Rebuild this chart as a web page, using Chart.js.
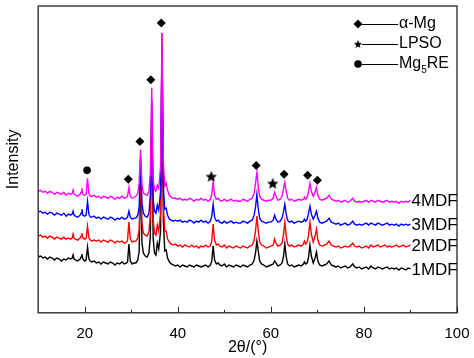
<!DOCTYPE html>
<html>
<head>
<meta charset="utf-8">
<script src="https://cdn.jsdelivr.net/npm/chart.js@4"></script>
<style>
  html, body { margin: 0; padding: 0; background: #fff; }
  #wrap { width: 474px; height: 358px; }
</style>
</head>
<body>
<div id="wrap"><canvas id="chart"></canvas></div>
<script>
// 2θ positions shared by all four patterns (one line per chunk)
const twoTheta = [
    10, 10.5, 11, 11.5, 12, 12.5, 13, 13.5, 14, 14.5, 15, 15.5, 16, 16.5, 17,
    17.3, 17.5, 17.7, 18, 18.5, 19, 19.2, 19.4, 19.6, 20, 20.3, 20.6, 20.9, 21.2, 21.5,
    22, 22.5, 23, 23.5, 24, 24.5, 25, 25.5, 26, 26.5, 27, 27.5, 28, 28.5, 29,
    29.2, 29.5, 29.8, 30.2, 30.6, 31, 31.4, 31.7, 32, 32.3, 32.6, 33, 33.4, 33.8, 34.1,
    34.4, 34.7, 35, 35.3, 35.6, 35.9, 36.3, 36.6, 36.9, 37.2, 37.5, 37.8, 38.2, 38.6, 39,
    39.5, 40, 40.5, 41, 41.5, 42, 42.5, 43, 43.5, 44, 44.5, 45, 45.5, 46, 46.5,
    47, 47.3, 47.6, 47.9, 48.3, 48.7, 49, 49.5, 50, 50.5, 51, 51.5, 52, 52.5, 53,
    53.5, 54, 54.5, 55, 55.5, 56, 56.4, 56.7, 57, 57.3, 57.6, 58, 58.5, 59, 59.5,
    60, 60.5, 60.8, 61.1, 61.5, 62, 62.4, 62.7, 63, 63.3, 63.6, 64, 64.5, 65, 65.5,
    66, 66.5, 67, 67.2, 67.5, 67.8, 68.1, 68.4, 68.7, 69.1, 69.5, 69.8, 70.1, 70.5, 71,
    71.5, 72, 72.5, 73, 73.5, 74, 74.5, 75, 75.5, 76, 76.5, 77, 77.6, 78, 78.5,
    79, 79.5, 80, 80.5, 81, 81.5, 82, 82.5, 83, 83.5, 84, 84.5, 85, 85.5, 86,
    86.5, 87, 87.5, 88, 88.5, 89, 89.5, 90
];

// intensities (a.u., offset patterns)
const mdf1 = [
    56, 57, 55, 56, 54, 56, 55, 53, 55, 54, 52, 54, 53, 55, 54,
    55, 58, 54, 53, 52, 54, 56, 59, 54, 52, 53, 66, 54, 52, 51,
    52, 50, 51, 49, 51, 50, 49, 51, 50, 48, 50, 49, 51, 49, 50,
    51, 69, 52, 49, 50, 50, 53, 62, 144, 70, 60, 57, 56, 60, 77,
    199, 75, 60, 58, 70, 64, 82, 269, 92, 62, 63, 55, 51, 49, 48,
    47, 48, 46, 48, 47, 46, 48, 47, 46, 48, 47, 46, 47, 48, 46,
    48, 52, 67, 53, 49, 50, 48, 47, 49, 46, 48, 47, 46, 48, 47,
    46, 48, 47, 46, 48, 49, 53, 60, 72, 62, 52, 49, 48, 46, 47,
    48, 49, 52, 50, 47, 48, 50, 56, 69, 56, 49, 47, 48, 46, 47,
    48, 47, 49, 51, 49, 50, 56, 68, 57, 50, 55, 61, 52, 48, 47,
    48, 49, 52, 48, 47, 46, 47, 45, 46, 47, 45, 46, 49, 46, 45,
    46, 44, 45, 46, 44, 47, 45, 44, 46, 45, 44, 45, 46, 44, 45,
    44, 45, 43, 45, 44, 43, 45, 44
];
const mdf2 = [
    77, 78, 76, 77, 75, 77, 76, 74, 76, 75, 74, 76, 74, 75, 74,
    75, 79, 75, 74, 73, 75, 77, 80, 75, 74, 75, 87, 75, 73, 72,
    73, 72, 73, 71, 73, 72, 71, 73, 72, 70, 72, 71, 72, 70, 71,
    73, 91, 74, 71, 72, 72, 75, 84, 149, 90, 80, 78, 77, 81, 98,
    204, 94, 80, 78, 88, 82, 100, 281, 107, 82, 82, 74, 71, 69, 68,
    69, 67, 68, 66, 68, 67, 66, 68, 66, 67, 65, 67, 66, 68, 66,
    67, 72, 89, 73, 68, 69, 67, 66, 68, 65, 67, 66, 65, 67, 66,
    65, 67, 66, 65, 67, 68, 73, 82, 97, 82, 71, 68, 67, 65, 66,
    67, 68, 74, 70, 67, 68, 70, 78, 91, 77, 69, 67, 68, 66, 67,
    68, 67, 69, 72, 69, 71, 78, 91, 79, 71, 77, 84, 73, 68, 67,
    68, 69, 72, 68, 67, 66, 67, 65, 66, 67, 66, 67, 70, 67, 66,
    67, 65, 66, 67, 65, 68, 66, 67, 68, 66, 67, 68, 66, 67, 66,
    67, 68, 66, 67, 68, 66, 67, 68
];
const mdf3 = [
    101, 102, 100, 101, 99, 101, 100, 98, 100, 99, 98, 100, 97, 99, 98,
    99, 102, 98, 97, 96, 98, 100, 104, 98, 97, 98, 112, 99, 96, 96,
    97, 95, 96, 94, 96, 95, 94, 96, 95, 93, 95, 94, 96, 94, 95,
    96, 102, 96, 94, 95, 95, 98, 106, 156, 110, 100, 97, 96, 100, 118,
    214, 114, 102, 100, 108, 103, 122, 269, 127, 104, 105, 98, 94, 93, 92,
    93, 92, 93, 91, 92, 91, 93, 92, 90, 92, 91, 93, 91, 92, 90,
    92, 97, 109, 96, 92, 93, 91, 90, 92, 90, 91, 92, 90, 91, 90,
    90, 92, 91, 90, 92, 93, 98, 106, 119, 104, 95, 92, 91, 90, 91,
    91, 93, 98, 94, 91, 92, 95, 101, 109, 99, 93, 91, 92, 90, 91,
    92, 91, 92, 94, 92, 94, 100, 107, 99, 94, 98, 102, 95, 91, 90,
    91, 92, 95, 91, 90, 89, 90, 88, 89, 90, 88, 89, 92, 89, 88,
    89, 88, 89, 90, 88, 90, 89, 88, 90, 89, 88, 89, 90, 88, 89,
    88, 89, 87, 89, 88, 89, 88, 89
];
const mdf4 = [
    122, 123, 121, 122, 120, 122, 121, 119, 121, 120, 119, 121, 118, 120, 119,
    120, 123, 119, 118, 117, 119, 121, 125, 119, 118, 119, 135, 120, 117, 117,
    118, 116, 117, 115, 117, 116, 115, 117, 116, 114, 116, 115, 117, 115, 116,
    117, 126, 117, 115, 116, 117, 120, 130, 164, 128, 120, 119, 118, 122, 140,
    226, 134, 124, 122, 128, 125, 147, 281, 152, 127, 130, 123, 118, 116, 115,
    115, 114, 115, 113, 114, 113, 115, 114, 112, 114, 113, 115, 113, 114, 112,
    114, 119, 131, 118, 114, 115, 113, 112, 114, 112, 113, 114, 112, 113, 112,
    112, 114, 113, 112, 114, 115, 120, 130, 141, 126, 117, 114, 113, 112, 113,
    113, 115, 121, 117, 113, 114, 117, 124, 131, 122, 115, 113, 114, 112, 113,
    114, 113, 114, 116, 114, 116, 122, 130, 122, 117, 121, 126, 118, 114, 113,
    114, 115, 118, 114, 113, 112, 113, 111, 112, 113, 111, 112, 115, 112, 111,
    112, 111, 112, 113, 111, 113, 112, 111, 113, 112, 111, 112, 113, 111, 112,
    111, 112, 110, 112, 111, 112, 111, 113
];

const seriesNames = ["1MDF", "2MDF", "3MDF", "4MDF"];
const seriesColors = ["#000000", "#ff0000", "#0000ff", "#ff00ff"];

// phase markers above the peaks
const alphaMgX = [29.35, 31.85, 34.2, 36.45, 56.85, 62.85, 67.9, 70.0];
const alphaMgY = [134, 172, 234, 291, 148, 139, 138, 133];
const lpsoX = [47.2, 60.4];
const lpsoY = [137, 130];
const mg5reX = [20.5];
const mg5reY = [143];

const phaseNames = ["α-Mg", "LPSO", "Mg5RE"];

const xTicks = [20, 40, 60, 80, 100];
const xMinorTicks = [30, 50, 70, 90];

function toPoints(xs, ys) {
    return xs.map((x, i) => ({ x: x, y: ys[i] }));
}

// filled five-point star used as point style
function makeStar(r) {
    const c = document.createElement("canvas");
    const s = Math.ceil(r * 2 + 2);
    c.width = s;
    c.height = s;
    const g = c.getContext("2d");
    g.fillStyle = "#000";
    g.beginPath();
    for (let i = 0; i < 10; i++) {
        const rr = i % 2 === 0 ? r : r * 0.45;
        const a = -Math.PI / 2 + i * Math.PI / 5;
        const px = s / 2 + rr * Math.cos(a);
        const py = s / 2 + rr * Math.sin(a) + 0.6;
        if (i === 0) g.moveTo(px, py); else g.lineTo(px, py);
    }
    g.closePath();
    g.fill();
    return c;
}
const starImg = makeStar(6);

const FONT = "'Liberation Sans', Arial, sans-serif";

const framePlugin = {
    id: "frame",
    afterDraw(chart) {
        const { ctx, chartArea: a, scales } = chart;
        ctx.save();
        ctx.strokeStyle = "#222";
        ctx.lineWidth = 1.3;
        ctx.strokeRect(a.left, a.top, a.right - a.left, a.bottom - a.top);

        // inward ticks on the bottom axis
        ctx.lineWidth = 1;
        ctx.beginPath();
        xTicks.forEach(v => {
            const px = Math.round(scales.x.getPixelForValue(v)) + 0.5;
            ctx.moveTo(px, a.bottom);
            ctx.lineTo(px, a.bottom - 6);
        });
        xMinorTicks.forEach(v => {
            const px = Math.round(scales.x.getPixelForValue(v)) + 0.5;
            ctx.moveTo(px, a.bottom);
            ctx.lineTo(px, a.bottom - 3);
        });
        ctx.stroke();

        // pattern names at the right end of each curve
        ctx.fillStyle = "#000";
        ctx.font = "17px " + FONT;
        ctx.textBaseline = "middle";
        [mdf1, mdf2, mdf3, mdf4].forEach((ys, i) => {
            const lx = scales.x.getPixelForValue(twoTheta[twoTheta.length - 1]) + 1;
            const ly = scales.y.getPixelForValue(ys[ys.length - 1]) + 1;
            ctx.fillText(seriesNames[i], lx, ly);
        });

        // phase legend
        const rows = [24, 44, 64];
        const mx = 358;
        ctx.strokeStyle = "#000";
        ctx.lineWidth = 1;
        rows.forEach((ry, i) => {
            ctx.beginPath();
            ctx.moveTo(mx + 4, ry + 0.5);
            ctx.lineTo(mx + 40, ry + 0.5);
            ctx.stroke();
            ctx.fillStyle = "#000";
            ctx.beginPath();
            if (i === 0) {
                ctx.moveTo(mx - 4.5, ry);
                ctx.lineTo(mx, ry - 4.5);
                ctx.lineTo(mx + 4.5, ry);
                ctx.lineTo(mx, ry + 4.5);
                ctx.closePath();
                ctx.fill();
            } else if (i === 1) {
                ctx.drawImage(starImg, mx - 5, ry - 5, 10, 10);
            } else {
                ctx.arc(mx, ry, 3.8, 0, Math.PI * 2);
                ctx.fill();
            }
        });
        ctx.font = "16px " + FONT;
        const tx = mx + 41;
        ctx.fillText(phaseNames[0], tx, rows[0]);
        ctx.fillText(phaseNames[1], tx, rows[1]);
        const mg = phaseNames[2].slice(0, 2);
        const sub = phaseNames[2].slice(2, 3);
        const rest = phaseNames[2].slice(3);
        ctx.fillText(mg, tx, rows[2]);
        const w = ctx.measureText(mg).width;
        ctx.font = "10px " + FONT;
        ctx.fillText(sub, tx + w, rows[2] + 6);
        const ws = ctx.measureText(sub).width;
        ctx.font = "16px " + FONT;
        ctx.fillText(rest, tx + w + ws, rows[2]);
        ctx.restore();
    }
};

const bgPlugin = {
    id: "bg",
    beforeDraw(chart) {
        const { ctx } = chart;
        ctx.save();
        ctx.fillStyle = "#fff";
        ctx.fillRect(0, 0, chart.width, chart.height);
        ctx.restore();
    }
};

const patterns = [mdf1, mdf2, mdf3, mdf4].map((ys, i) => ({
    label: seriesNames[i],
    data: toPoints(twoTheta, ys),
    showLine: true,
    borderColor: seriesColors[i],
    borderWidth: 1.4,
    pointRadius: 0,
    tension: 0,
    order: 4 - i
}));

const markers = [
    {
        label: phaseNames[0],
        data: toPoints(alphaMgX, alphaMgY),
        pointStyle: "rectRot",
        pointRadius: 4.5,
        backgroundColor: "#000",
        borderWidth: 0,
        showLine: false,
        order: 0
    },
    {
        label: phaseNames[1],
        data: toPoints(lpsoX, lpsoY),
        pointStyle: starImg,
        borderWidth: 0,
        showLine: false,
        order: 0
    },
    {
        label: phaseNames[2],
        data: toPoints(mg5reX, mg5reY),
        pointStyle: "circle",
        pointRadius: 3.8,
        backgroundColor: "#000",
        borderWidth: 0,
        showLine: false,
        order: 0
    }
];

const ctx = document.getElementById("chart");

new Chart(ctx, {
    type: "scatter",
    data: { datasets: patterns.concat(markers) },
    options: {
        responsive: true,
        maintainAspectRatio: false,
        animation: false,
        layout: { padding: { left: 4, right: 17, top: 6, bottom: 1 } },
        plugins: {
            legend: { display: false },
            tooltip: { enabled: false }
        },
        scales: {
            x: {
                type: "linear",
                min: 10,
                max: 100,
                afterBuildTicks: axis => {
                    axis.ticks = xTicks.map(v => ({ value: v }));
                },
                // invisible tick marks only push the labels down
                grid: {
                    display: true,
                    drawOnChartArea: false,
                    drawTicks: true,
                    tickLength: 9,
                    tickColor: "rgba(0,0,0,0)"
                },
                border: { display: false },
                ticks: {
                    color: "#000",
                    padding: 3,
                    maxRotation: 0,
                    font: { family: FONT, size: 15 }
                },
                title: {
                    display: true,
                    text: "2θ/(°)",
                    color: "#000",
                    padding: { top: -8, bottom: 0 },
                    font: { family: FONT, size: 16 }
                }
            },
            y: {
                min: 0,
                max: 308,
                grid: { display: false, drawTicks: false },
                border: { display: false },
                ticks: { display: false },
                title: {
                    display: true,
                    text: "Intensity",
                    color: "#000",
                    padding: { top: 0, bottom: 15 },
                    font: { family: FONT, size: 16 }
                }
            }
        }
    },
    plugins: [bgPlugin, framePlugin]
});
</script>
</body>
</html>
